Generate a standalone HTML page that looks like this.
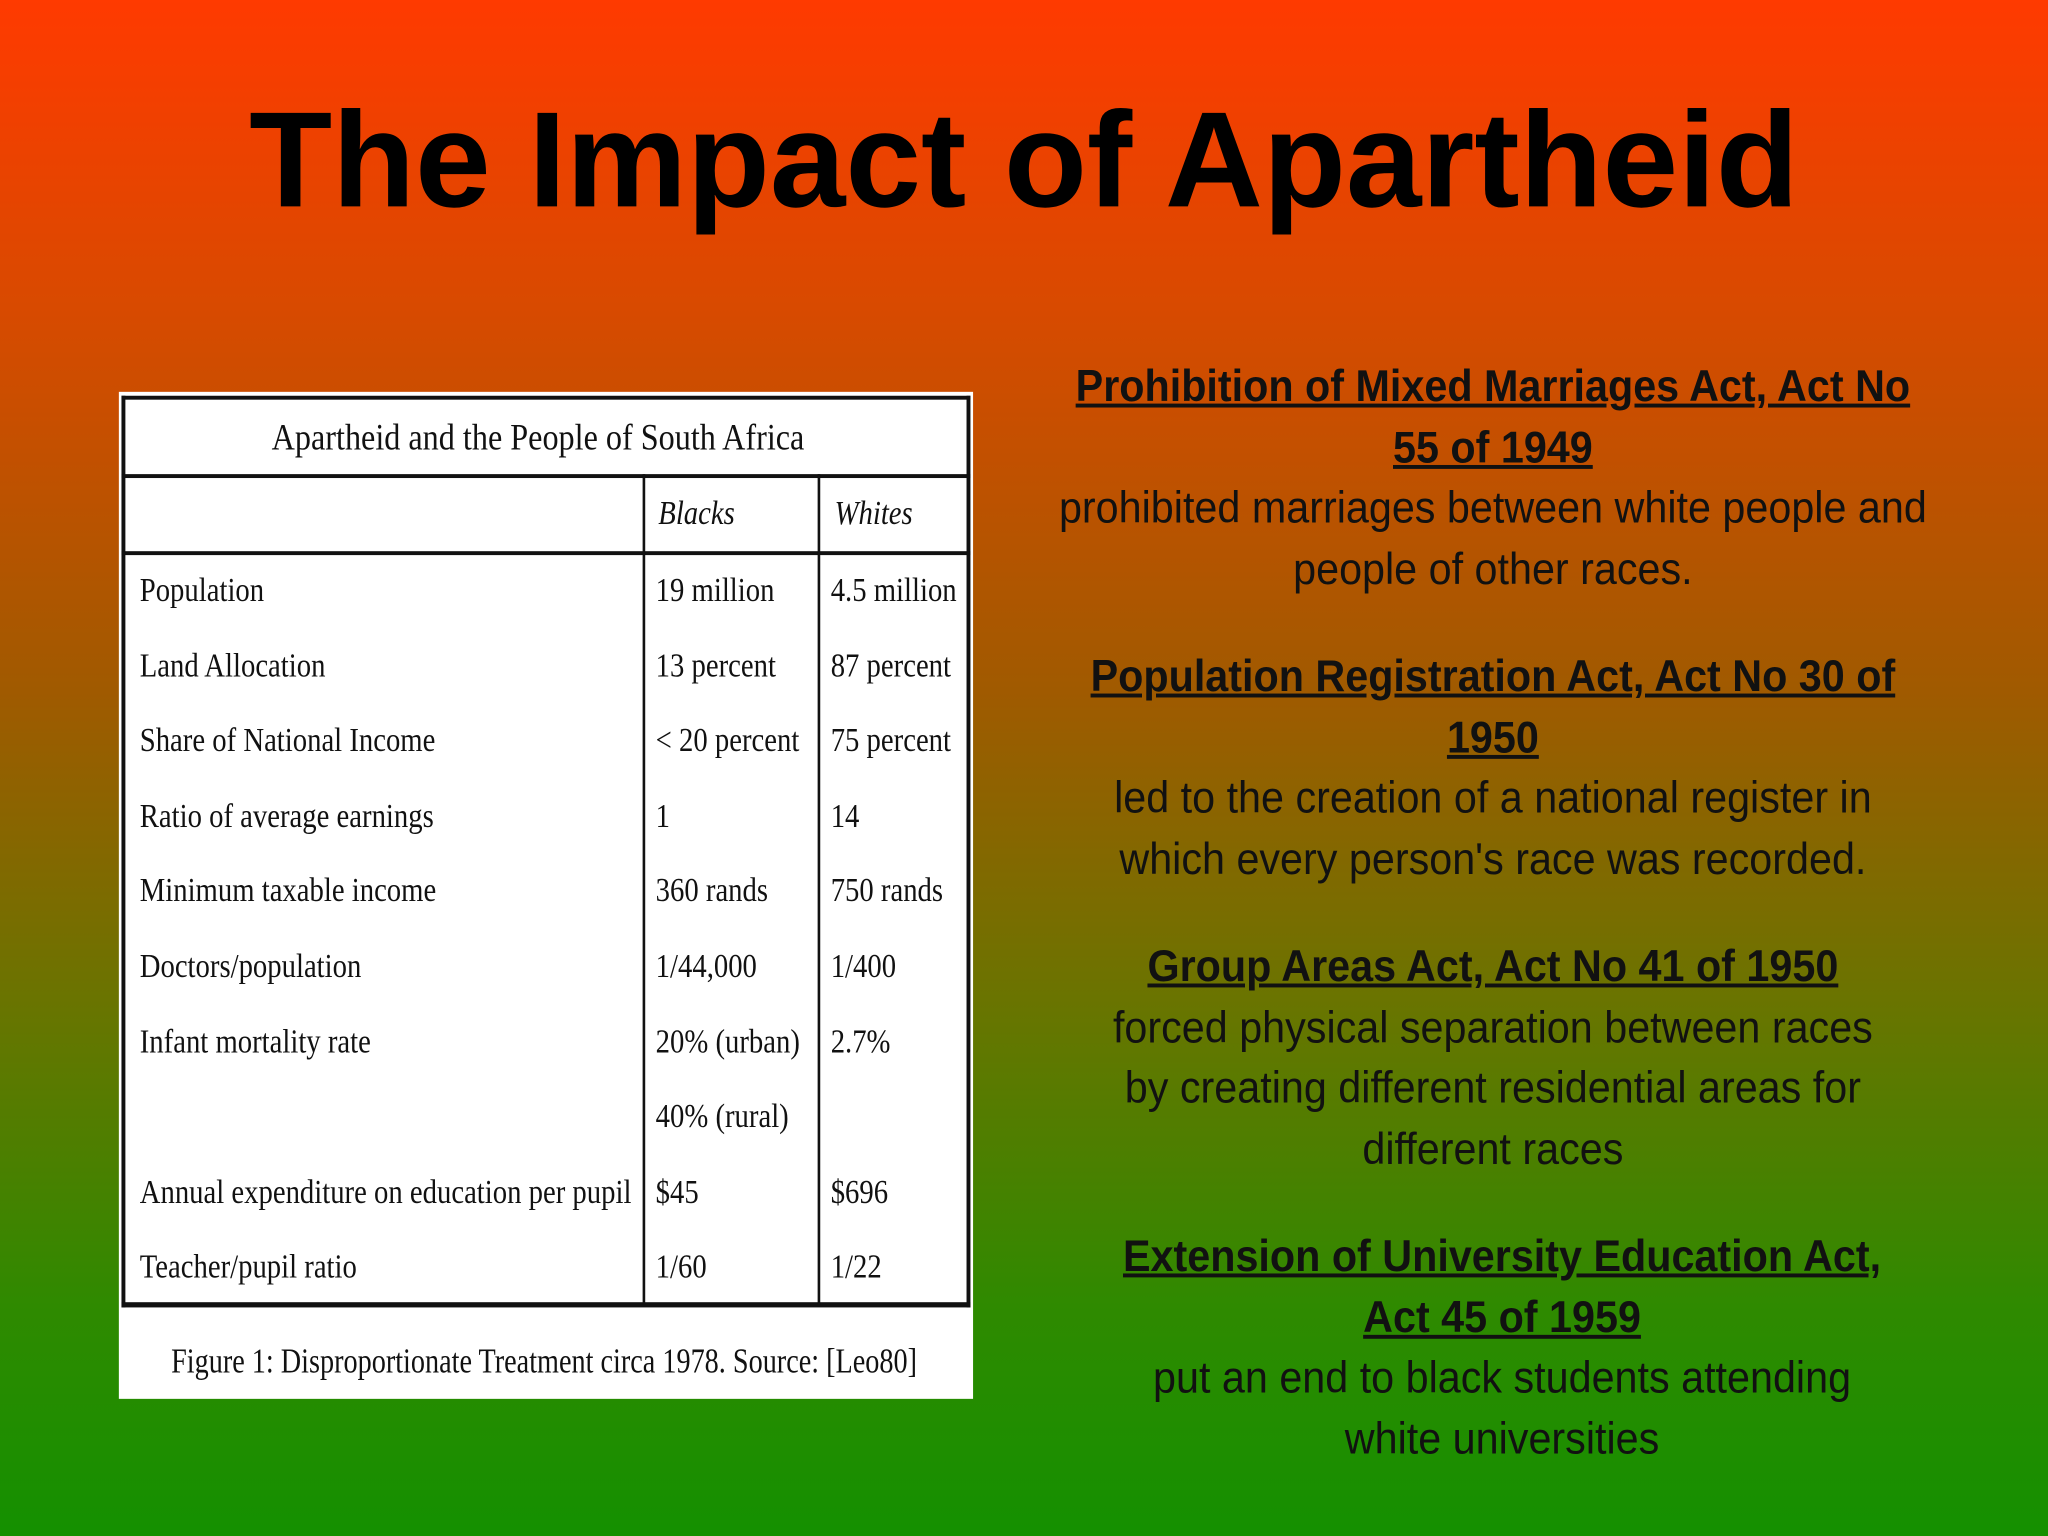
<!DOCTYPE html>
<html><head><meta charset="utf-8"><style>
html,body{margin:0;padding:0;width:2048px;height:1536px;overflow:hidden}
body{background:linear-gradient(to bottom,#ff3a00 0%,#d84a00 20%,#a05a00 45%,#6a7400 65%,#2f8a00 85%,#149000 100%)}
#s{position:absolute;left:0;top:0;width:1568px;height:1176px;transform:scale(1.30612);transform-origin:0 0}
h1{position:absolute;left:0;width:1568px;top:64px;margin:0;text-align:center;font:bold 104px "Liberation Sans",sans-serif;color:#000}
.tbl{position:absolute;left:91px;top:300px;width:654px;height:771px;background:#fff}
.t{position:absolute;font-family:"Liberation Serif",serif;color:#111;font-size:26px;transform:scaleX(.845);transform-origin:0 50%;white-space:nowrap}
.ln{position:absolute;background:#111}
.r{position:absolute;left:743px;width:800px;text-align:center;font:34px "Liberation Sans",sans-serif;color:#111;line-height:46.5px;transform:scaleX(.93);transform-origin:50% 50%;white-space:nowrap}
.r b{text-decoration:underline;font-weight:bold}
</style></head><body>
<div id="s">
<h1>The Impact of Apartheid</h1>
<div class="tbl">
 <div class="ln" style="left:2px;top:3px;width:650px;height:3px"></div>
 <div class="ln" style="left:2px;top:3px;width:3px;height:698px"></div>
 <div class="ln" style="left:649px;top:3px;width:3px;height:698px"></div>
 <div class="ln" style="left:2px;top:63px;width:650px;height:3px"></div>
 <div class="ln" style="left:2px;top:122px;width:650px;height:3px"></div>
 <div class="ln" style="left:2px;top:697px;width:650px;height:4px"></div>
 <div class="ln" style="left:401px;top:63px;width:2px;height:636px"></div>
 <div class="ln" style="left:535px;top:63px;width:2px;height:636px"></div>
 <div class="t" style="left:117px;top:20px;font-size:28px;transform:scaleX(.88)">Apartheid and the People of South Africa</div>
 <div class="t" style="left:413px;top:78px;font-style:italic">Blacks</div>
 <div class="t" style="left:548px;top:78px;font-style:italic">Whites</div>
 <div id="rows"></div>
 <div class="t" style="left:40px;top:727px;font-size:27px;transform:scaleX(.8)">Figure 1: Disproportionate Treatment circa 1978. Source: [Leo80]</div>
</div>
<div class="r" style="top:273px"><b>Prohibition of Mixed Marriages Act, Act No</b><br><b>55 of 1949</b><br>prohibited marriages between white people and<br>people of other races.</div>
<div class="r" style="top:495px"><b>Population Registration Act, Act No 30 of</b><br><b>1950</b><br>led to the creation of a national register in<br>which every person's race was recorded.</div>
<div class="r" style="top:717px"><b>Group Areas Act, Act No 41 of 1950</b><br>forced physical separation between races<br>by creating different residential areas for<br>different races</div>
<div class="r" style="top:939px;left:750px"><b>Extension of University Education Act,</b><br><b>Act 45 of 1959</b><br>put an end to black students attending<br>white universities</div>
</div>
<script>
const labels=["Population","Land Allocation","Share of National Income","Ratio of average earnings","Minimum taxable income","Doctors/population","Infant mortality rate","","Annual expenditure on education per pupil","Teacher/pupil ratio"];
const blacks=["19 million","13 percent","< 20 percent","1","360 rands","1/44,000","20% (urban)","40% (rural)","$45","1/60"];
const whites=["4.5 million","87 percent","75 percent","14","750 rands","1/400","2.7%","","$696","1/22"];
const R=document.getElementById('rows');
labels.forEach((l,i)=>{
 const y=137+i*57.6;
 [[l,16],[blacks[i],411],[whites[i],545]].forEach((c,j)=>{
  if(!c[0])return;
  const d=document.createElement('div');d.className='t';
  d.style.left=c[1]+'px';d.style.top=y+'px';d.textContent=c[0];
  
  
  R.appendChild(d);
 });
});
</script>
</body></html>
